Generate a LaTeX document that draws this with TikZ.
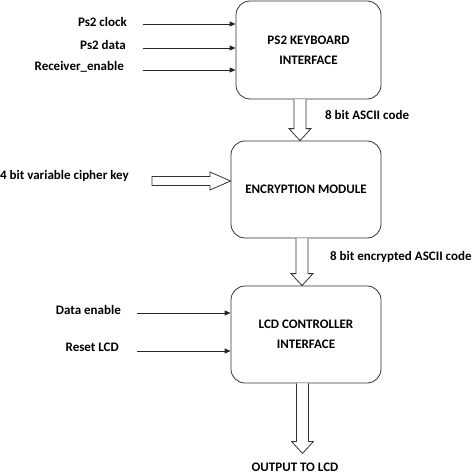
\documentclass[tikz,border=0pt]{standalone}
\usepackage{fontspec}
\setmainfont{Carlito}
\usetikzlibrary{arrows.meta,calc}

\newcommand\diafont{\fontsize{13}{16}\selectfont\bfseries}

\tikzset{
  block/.style={draw=black!80, line width=0.8pt, rounded corners=14pt, align=center, font=\diafont},
  lbl/.style={font=\diafont, inner sep=0pt},
  sig/.style={draw=black!85, line width=0.8pt, -{Triangle[length=6pt,width=5pt]}},
  fat/.style={draw=black!80, line width=0.8pt, fill=white}
}

% hollow arrow pointing down from #1 to #2
\newcommand\bigdown[2]{%
  \path[fat] let \p1=(#1), \p2=(#2) in
    (\x1-6pt,\y1) -- (\x1-6pt,\y2+12pt) -- (\x1-11pt,\y2+12pt) -- (\x1,\y2)
    -- (\x1+11pt,\y2+12pt) -- (\x1+6pt,\y2+12pt) -- (\x1+6pt,\y1);}

\begin{document}
\begin{tikzpicture}[x=1pt, y=-1pt]
		\useasboundingbox (0,0) rectangle (474,476);

		\node[block, minimum width=145pt, minimum height=98pt] (kbd) at (308.5,50)
			{PS2 KEYBOARD\\[4pt]INTERFACE};
		\node[block, minimum width=150pt, minimum height=97pt] (enc) at (306,189.5)
			{ENCRYPTION MODULE};
		\node[block, minimum width=150pt, minimum height=97pt] (lcd) at (306,334.5)
			{LCD CONTROLLER\\[4pt]INTERFACE};

		% inputs of the keyboard interface
		\node[lbl, anchor=east] (clk) at (127,22) {Ps2 clock};
		\node[lbl, anchor=east] (dat) at (126,45) {Ps2 data};
		\node[lbl, anchor=east] (rcv) at (124,67) {Receiver\_enable};
		\coordinate (clkin) at (143,24);
		\coordinate (datin) at (143,48);
		\coordinate (rcvin) at (143,70);
		\draw[sig] (clkin) -- (clkin -| kbd.west);
		\draw[sig] (datin) -- (datin -| kbd.west);
		\draw[sig] (rcvin) -- (rcvin -| kbd.west);

		% keyboard -> encryption
		\coordinate (asc) at ($(kbd.south)+(-8.5,0)$);
		\bigdown{asc}{asc |- enc.north}
		\node[lbl, anchor=west] (asclbl) at (325,115) {8 bit ASCII code};

		% cipher key
		\node[lbl, anchor=west] (key) at (0,176) {4 bit variable cipher key};
		\coordinate (keyin) at (152,181);
		\path[fat] (keyin) ++(0,-4.5) -- ++(58,0) -- ++(0,-4.5) -- (keyin -| enc.west)
			-- ($(keyin)+(58,9)$) -- ++(0,-4.5) -- ++(-58,0) -- cycle;

		% encryption -> lcd
		\coordinate (encout) at ($(enc.south)+(-4,0)$);
		\bigdown{encout}{encout |- lcd.north}
		\node[lbl, anchor=west] (enclbl) at (330,257) {8 bit encrypted ASCII code};

		% inputs of the lcd controller
		\node[lbl, anchor=east] (den) at (121,310) {Data enable};
		\node[lbl, anchor=east] (rst) at (119,347) {Reset LCD};
		\coordinate (denin) at (137,313);
		\coordinate (rstin) at (137,351);
		\draw[sig] (denin) -- (denin -| lcd.west);
		\draw[sig] (rstin) -- (rstin -| lcd.west);

		% output
		\coordinate (out) at ($(lcd.south)+(-3.5,0)$);
		\coordinate (outtip) at ($(out)+(0,70)$);
		\bigdown{out}{outtip}
		\node[lbl] (outlbl) at (295,467) {OUTPUT TO LCD};
	\end{tikzpicture}
\end{document}
